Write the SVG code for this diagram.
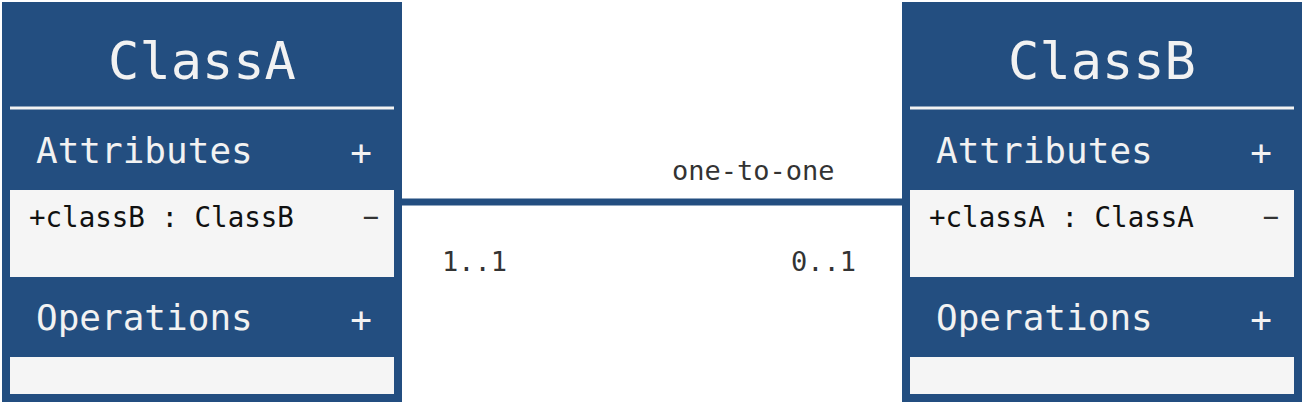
<svg xmlns="http://www.w3.org/2000/svg" width="1304" height="404" viewBox="0 0 1304 404">
<style>
.box{fill:#234E80}
.panel{fill:#F5F5F5}
.sep{stroke:#F2F2F2;stroke-width:3}
.title{font-family:"DejaVu Sans Mono",monospace;font-size:52px;fill:#F2F2F2;text-anchor:middle}
.sec{font-family:"DejaVu Sans Mono",monospace;font-size:36px;fill:#F2F2F2}
.pm{font-family:"DejaVu Sans Mono",monospace;font-size:36px;fill:#F2F2F2;text-anchor:middle}
.attr{font-family:"DejaVu Sans Mono",monospace;font-size:27.5px;fill:#111}
.minus{font-family:"DejaVu Sans Mono",monospace;font-size:27px;fill:#333;text-anchor:middle}
.lbl{font-family:"DejaVu Sans Mono",monospace;font-size:27px;fill:#333}
.conn{stroke:#234E80;stroke-width:7;fill:none}
</style>
<rect width="1304" height="404" fill="#FFFFFF"/>
<g id="connectors">
<line class="conn" x1="402" y1="202" x2="902" y2="202"/>
<text class="lbl" x="672" y="180">one-to-one</text>
<text class="lbl" x="442" y="271">1..1</text>
<text class="lbl" x="791" y="271">0..1</text>
</g>
<g id="ClassA">
<rect class="box" x="2" y="2" width="400" height="400"/>
<text class="title" x="202" y="79">ClassA</text>
<line class="sep" x1="10" y1="108" x2="394" y2="108"/>
<text class="sec" x="36" y="163">Attributes</text>
<text class="pm" x="361" y="165">+</text>
<rect class="panel" x="10" y="190" width="384" height="87"/>
<text class="attr" x="29" y="227">+classB : ClassB</text>
<text class="minus" x="371" y="226">−</text>
<text class="sec" x="36" y="330">Operations</text>
<text class="pm" x="361" y="332">+</text>
<rect class="panel" x="10" y="357" width="384" height="37"/>
</g>
<g id="ClassB">
<rect class="box" x="902" y="2" width="400" height="400"/>
<text class="title" x="1102" y="79">ClassB</text>
<line class="sep" x1="910" y1="108" x2="1294" y2="108"/>
<text class="sec" x="936" y="163">Attributes</text>
<text class="pm" x="1261" y="165">+</text>
<rect class="panel" x="910" y="190" width="384" height="87"/>
<text class="attr" x="929" y="227">+classA : ClassA</text>
<text class="minus" x="1271" y="226">−</text>
<text class="sec" x="936" y="330">Operations</text>
<text class="pm" x="1261" y="332">+</text>
<rect class="panel" x="910" y="357" width="384" height="37"/>
</g>
</svg>
